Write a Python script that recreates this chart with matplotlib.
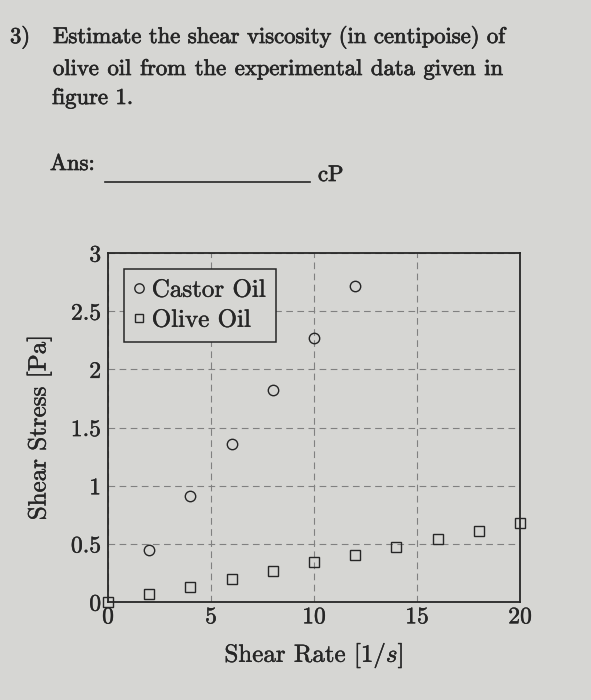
import matplotlib
matplotlib.use("Agg")
import matplotlib.pyplot as plt
import matplotlib.patheffects as pe

plt.rcParams['font.family'] = 'cmr10'
plt.rcParams['mathtext.fontset'] = 'cm'
plt.rcParams['axes.formatter.use_mathtext'] = True

# data
castor_rate = [2, 4, 6, 8, 10, 12]
castor_stress = [0.45, 0.91, 1.36, 1.82, 2.27, 2.72]
olive_rate = [0, 2, 4, 6, 8, 10, 12, 14, 16, 18, 20]
olive_stress = [0.0, 0.07, 0.13, 0.2, 0.27, 0.34, 0.4, 0.47, 0.54, 0.61, 0.68]

x_ticks = [0, 5, 10, 15, 20]
y_ticks = [0, 0.5, 1, 1.5, 2, 2.5, 3]
y_tick_labels = ['0', '0.5', '1', '1.5', '2', '2.5', '3']

W, H = 591, 700
paper = '#d6d6d3'
ink = '#262626'
thick = [pe.withStroke(linewidth=0.5, foreground=ink)]

fig = plt.figure(figsize=(W / 100, H / 100), dpi=100)
fig.patch.set_facecolor(paper)
renderer = fig.canvas.get_renderer()


def px(x, y):
    return x / W, 1 - y / H


def justified(words, x0, x1, y, size):
    # lay the words out so the line fills x0..x1 like the typeset page
    texts = [fig.text(0, 0, w, fontsize=size, color=ink, va='baseline',
                      path_effects=thick) for w in words]
    widths = [t.get_window_extent(renderer).width for t in texts]
    gap = (x1 - x0 - sum(widths)) / (len(words) - 1)
    x = x0
    for t, w in zip(texts, widths):
        t.set_position(px(x, y))
        x += w + gap


# question text
fs_head = 16.3
fig.text(*px(10, 43), '3)', fontsize=fs_head, color=ink, va='baseline', path_effects=thick)
justified('Estimate the shear viscosity (in centipoise) of'.split(), 53, 505, 43, fs_head)
justified('olive oil from the experimental data given in'.split(), 53, 503, 75, fs_head)
fig.text(*px(52, 104), 'figure 1.', fontsize=fs_head, color=ink, va='baseline', path_effects=thick)

fig.text(*px(50, 170), 'Ans:', fontsize=fs_head, color=ink, va='baseline', path_effects=thick)
fig.add_artist(plt.Line2D([105 / W, 310 / W], [1 - 182 / H, 1 - 182 / H],
                          color=ink, linewidth=1.2))
fig.text(*px(318, 181), 'cP', fontsize=fs_head, color=ink, va='baseline', path_effects=thick)

ax = fig.add_axes([108 / W, 1 - 602 / H, 412 / W, 349 / H])
ax.set_facecolor(paper)

ax.plot(castor_rate, castor_stress, linestyle='none', marker='o', markersize=7.5,
        markerfacecolor='none', markeredgecolor=ink, markeredgewidth=1.0,
        label='Castor Oil', clip_on=False, zorder=3)
ax.plot(olive_rate, olive_stress, linestyle='none', marker='s', markersize=6.5,
        markerfacecolor='none', markeredgecolor=ink, markeredgewidth=1.0,
        label='Olive Oil', clip_on=False, zorder=3)

ax.set_xlim(0, 20)
ax.set_ylim(0, 3)
ax.set_xticks(x_ticks)
ax.set_xticklabels([str(t) for t in x_ticks])
ax.set_yticks(y_ticks)
ax.set_yticklabels(y_tick_labels)
ax.tick_params(length=0, labelsize=17, colors=ink, pad=5)
ax.tick_params(axis='x', pad=3)
for lab in ax.get_xticklabels() + ax.get_yticklabels():
    lab.set_path_effects([pe.withStroke(linewidth=0.3, foreground=ink)])

ax.grid(True, linestyle=(0, (6, 4)), color='#808080', linewidth=0.8)
for s in ax.spines.values():
    s.set_color(ink)
    s.set_linewidth(1.3)

ax.set_xlabel(r'Shear Rate $[1/s]$', fontsize=18, color=ink, labelpad=9)
ax.set_ylabel('Shear Stress [Pa]', fontsize=18, color=ink, labelpad=14)
ax.xaxis.label.set_path_effects([pe.withStroke(linewidth=0.3, foreground=ink)])
ax.yaxis.label.set_path_effects([pe.withStroke(linewidth=0.3, foreground=ink)])

leg = ax.legend(loc='upper left', fontsize=18, frameon=True, fancybox=False,
                handlelength=0.4, handletextpad=0.3, borderpad=0.4,
                labelspacing=0.3, borderaxespad=0.65, markerscale=0.9)
leg.get_frame().set_edgecolor(ink)
leg.get_frame().set_facecolor(paper)
leg.get_frame().set_linewidth(1.1)
leg.get_frame().set_alpha(1)
for t in leg.get_texts():
    t.set_color(ink)
    t.set_path_effects([pe.withStroke(linewidth=0.3, foreground=ink)])

plt.savefig('out.png', dpi=100, facecolor=paper)
